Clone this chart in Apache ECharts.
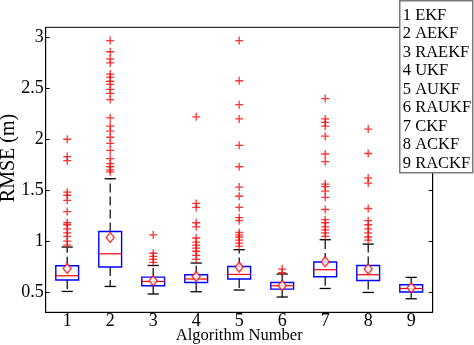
<!DOCTYPE html>
<html>
<head>
<meta charset="utf-8">
<script src="https://cdn.jsdelivr.net/npm/echarts@6/dist/echarts.min.js"></script>
<style>html,body{margin:0;padding:0;background:#fff;}#c{width:474px;height:345px;}</style>
</head>
<body>
<div id="c"></div>
<script>
const categories = ['1', '2', '3', '4', '5', '6', '7', '8', '9'];
const whiskerLow = [0.505, 0.554, 0.48, 0.502, 0.519, 0.45, 0.534, 0.495, 0.433];
const q1 = [0.617, 0.745, 0.561, 0.593, 0.627, 0.528, 0.649, 0.613, 0.50];
const median = [0.659, 0.875, 0.603, 0.627, 0.672, 0.561, 0.718, 0.669, 0.534];
const q3 = [0.757, 1.094, 0.646, 0.669, 0.75, 0.593, 0.794, 0.76, 0.571];
const whiskerHigh = [0.941, 1.612, 0.76, 0.784, 0.915, 0.676, 1.013, 0.97, 0.643];
const means = [0.731, 1.035, 0.61, 0.652, 0.744, 0.564, 0.797, 0.725, 0.541];
const outliers = [
  [2.0, 1.83, 1.79, 1.48, 1.45, 1.40, 1.29, 1.18, 1.16, 1.12, 1.08, 1.045, 1.0, 0.96],
  [2.97, 2.86, 2.79, 2.75, 2.64, 2.61, 2.57, 2.54, 2.49, 2.45, 2.39, 2.21, 2.13, 2.08, 2.02, 1.96, 1.89, 1.81, 1.76, 1.73, 1.70, 1.68],
  [1.06, 0.88, 0.85, 0.82, 0.79],
  [2.22, 1.37, 1.33, 1.18, 1.14, 1.03, 0.99, 0.96, 0.93, 0.90, 0.86, 0.82],
  [2.97, 2.575, 2.34, 2.20, 1.94, 1.73, 1.53, 1.44, 1.33, 1.23, 1.20, 1.085, 1.06, 1.04, 1.01, 0.98, 0.95],
  [0.725, 0.69],
  [2.40, 2.20, 2.165, 2.13, 2.03, 1.855, 1.78, 1.56, 1.535, 1.49, 1.43, 1.31, 1.21, 1.18, 1.14, 1.11, 1.08, 1.045],
  [2.10, 1.86, 1.62, 1.57, 1.32, 1.20, 1.16, 1.12, 1.08, 1.04, 1.01],
  []
];
const yTickValues = [0.5, 1, 1.5, 2, 2.5, 3];
const legendLabels = ['1 EKF', '2 AEKF', '3 RAEKF', '4 UKF', '5 AUKF', '6 RAUKF', '7 CKF', '8 ACKF', '9 RACKF'];
const xAxisTitle = 'Algorithm Number';
const yAxisTitle = 'RMSE (m)';

const FONT = "'Liberation Serif', 'Times New Roman', serif";

const boxData = categories.map((c, i) => [i, whiskerLow[i], q1[i], median[i], q3[i], whiskerHigh[i]]);
const meanData = categories.map((c, i) => [i, means[i]]);
const outlierData = [];
outliers.forEach((arr, i) => arr.forEach(v => outlierData.push([i, v])));

const chart = echarts.init(document.getElementById('c'), null, {renderer: 'canvas'});

function renderBox(params, api) {
  const i = api.value(0);
  const pLo = api.coord([i, api.value(1)]);
  const pQ1 = api.coord([i, api.value(2)]);
  const pMed = api.coord([i, api.value(3)]);
  const pQ3 = api.coord([i, api.value(4)]);
  const pHi = api.coord([i, api.value(5)]);
  const band = api.size([1, 0])[0];
  const x = pMed[0];
  const half = band * 0.265;
  const cap = band * 0.13;
  const wStyle = {stroke: '#000', lineWidth: 1.2, lineDash: [9, 4]};
  const cStyle = {stroke: '#000', lineWidth: 1.3};
  return {
    type: 'group',
    children: [
      {type: 'line', shape: {x1: x, y1: pQ3[1], x2: x, y2: pHi[1]}, style: wStyle},
      {type: 'line', shape: {x1: x, y1: pQ1[1], x2: x, y2: pLo[1]}, style: wStyle},
      {type: 'line', shape: {x1: x - cap, y1: pHi[1], x2: x + cap, y2: pHi[1]}, style: cStyle},
      {type: 'line', shape: {x1: x - cap, y1: pLo[1], x2: x + cap, y2: pLo[1]}, style: cStyle},
      {type: 'rect', shape: {x: x - half, y: pQ3[1], width: half * 2, height: pQ1[1] - pQ3[1]},
        style: {fill: 'rgba(255,255,255,0)', stroke: '#0000ff', lineWidth: 1.4}},
      {type: 'line', shape: {x1: x - half, y1: pMed[1], x2: x + half, y2: pMed[1]}, style: {stroke: '#ff0000', lineWidth: 1.2}}
    ]
  };
}

const option = {
  animation: false,
  backgroundColor: '#fff',
  grid: {left: 45.7, right: 41.3, top: 27.3, bottom: 32.7, containLabel: false, outerBoundsMode: 'none',
    show: true, borderColor: '#000', borderWidth: 1, backgroundColor: 'transparent'},
  xAxis: [{
    type: 'category',
    data: categories,
    boundaryGap: true,
    axisLine: {lineStyle: {color: '#000', width: 1}},
    axisTick: {show: false},
    axisLabel: {color: '#000', fontFamily: FONT, fontSize: 18, margin: 0},
    name: xAxisTitle,
    nameLocation: 'middle',
    nameGap: 23,
    nameMoveOverlap: false,
    nameTextStyle: {color: '#000', fontFamily: FONT, fontSize: 16.5, verticalAlign: 'middle'}
  }],
  yAxis: [{
    type: 'value',
    min: 0.3,
    max: 3.1,
    splitLine: {show: false},
    axisLine: {show: true, lineStyle: {color: '#000', width: 1}},
    axisTick: {show: true, inside: true, length: 4, customValues: yTickValues, lineStyle: {color: '#000'}},
    axisLabel: {color: '#000', fontFamily: FONT, fontSize: 18, margin: 2, customValues: yTickValues}
  }, {
    type: 'value',
    position: 'right',
    min: 0.3,
    max: 3.1,
    splitLine: {show: false},
    axisLine: {show: true, lineStyle: {color: '#000', width: 1}},
    axisTick: {show: true, inside: true, length: 4, customValues: yTickValues, lineStyle: {color: '#000'}},
    axisLabel: {show: false, customValues: yTickValues}
  }],
  series: [{
    type: 'custom',
    renderItem: renderBox,
    data: boxData,
    encode: {x: 0, y: [1, 2, 3, 4, 5]},
    z: 2
  }, {
    type: 'scatter',
    data: outlierData,
    symbol: 'path://M0,5L10,5M5,0L5,10',
    symbolSize: 8,
    itemStyle: {color: 'none', borderColor: '#ff0000', borderWidth: 1.3},
    z: 3
  }, {
    type: 'scatter',
    data: meanData,
    symbol: 'diamond',
    symbolSize: [8, 10],
    itemStyle: {color: '#ffffff', borderColor: '#ff0000', borderWidth: 1.4},
    z: 4
  }],
  graphic: [{
    type: 'text',
    x: 9,
    y: 158,
    rotation: Math.PI / 2,
    z: 100,
    style: {text: yAxisTitle, fill: '#000', font: "20px " + FONT, align: 'center', verticalAlign: 'middle'}
  }, {
    type: 'group',
    left: 399,
    top: 0,
    z: 100,
    children: [{
      type: 'rect',
      z: 100,
      shape: {x: 0, y: 0, width: 73, height: 172},
      style: {fill: '#fff', stroke: '#7a7a7a', lineWidth: 1.5}
    }, {
      type: 'text',
      z: 101,
      x: 3,
      y: 5.5,
      style: {text: legendLabels.join('\n'), fill: '#000', font: "16.5px " + FONT, lineHeight: 18.5}
    }]
  }]
};
chart.setOption(option);
</script>
</body>
</html>
